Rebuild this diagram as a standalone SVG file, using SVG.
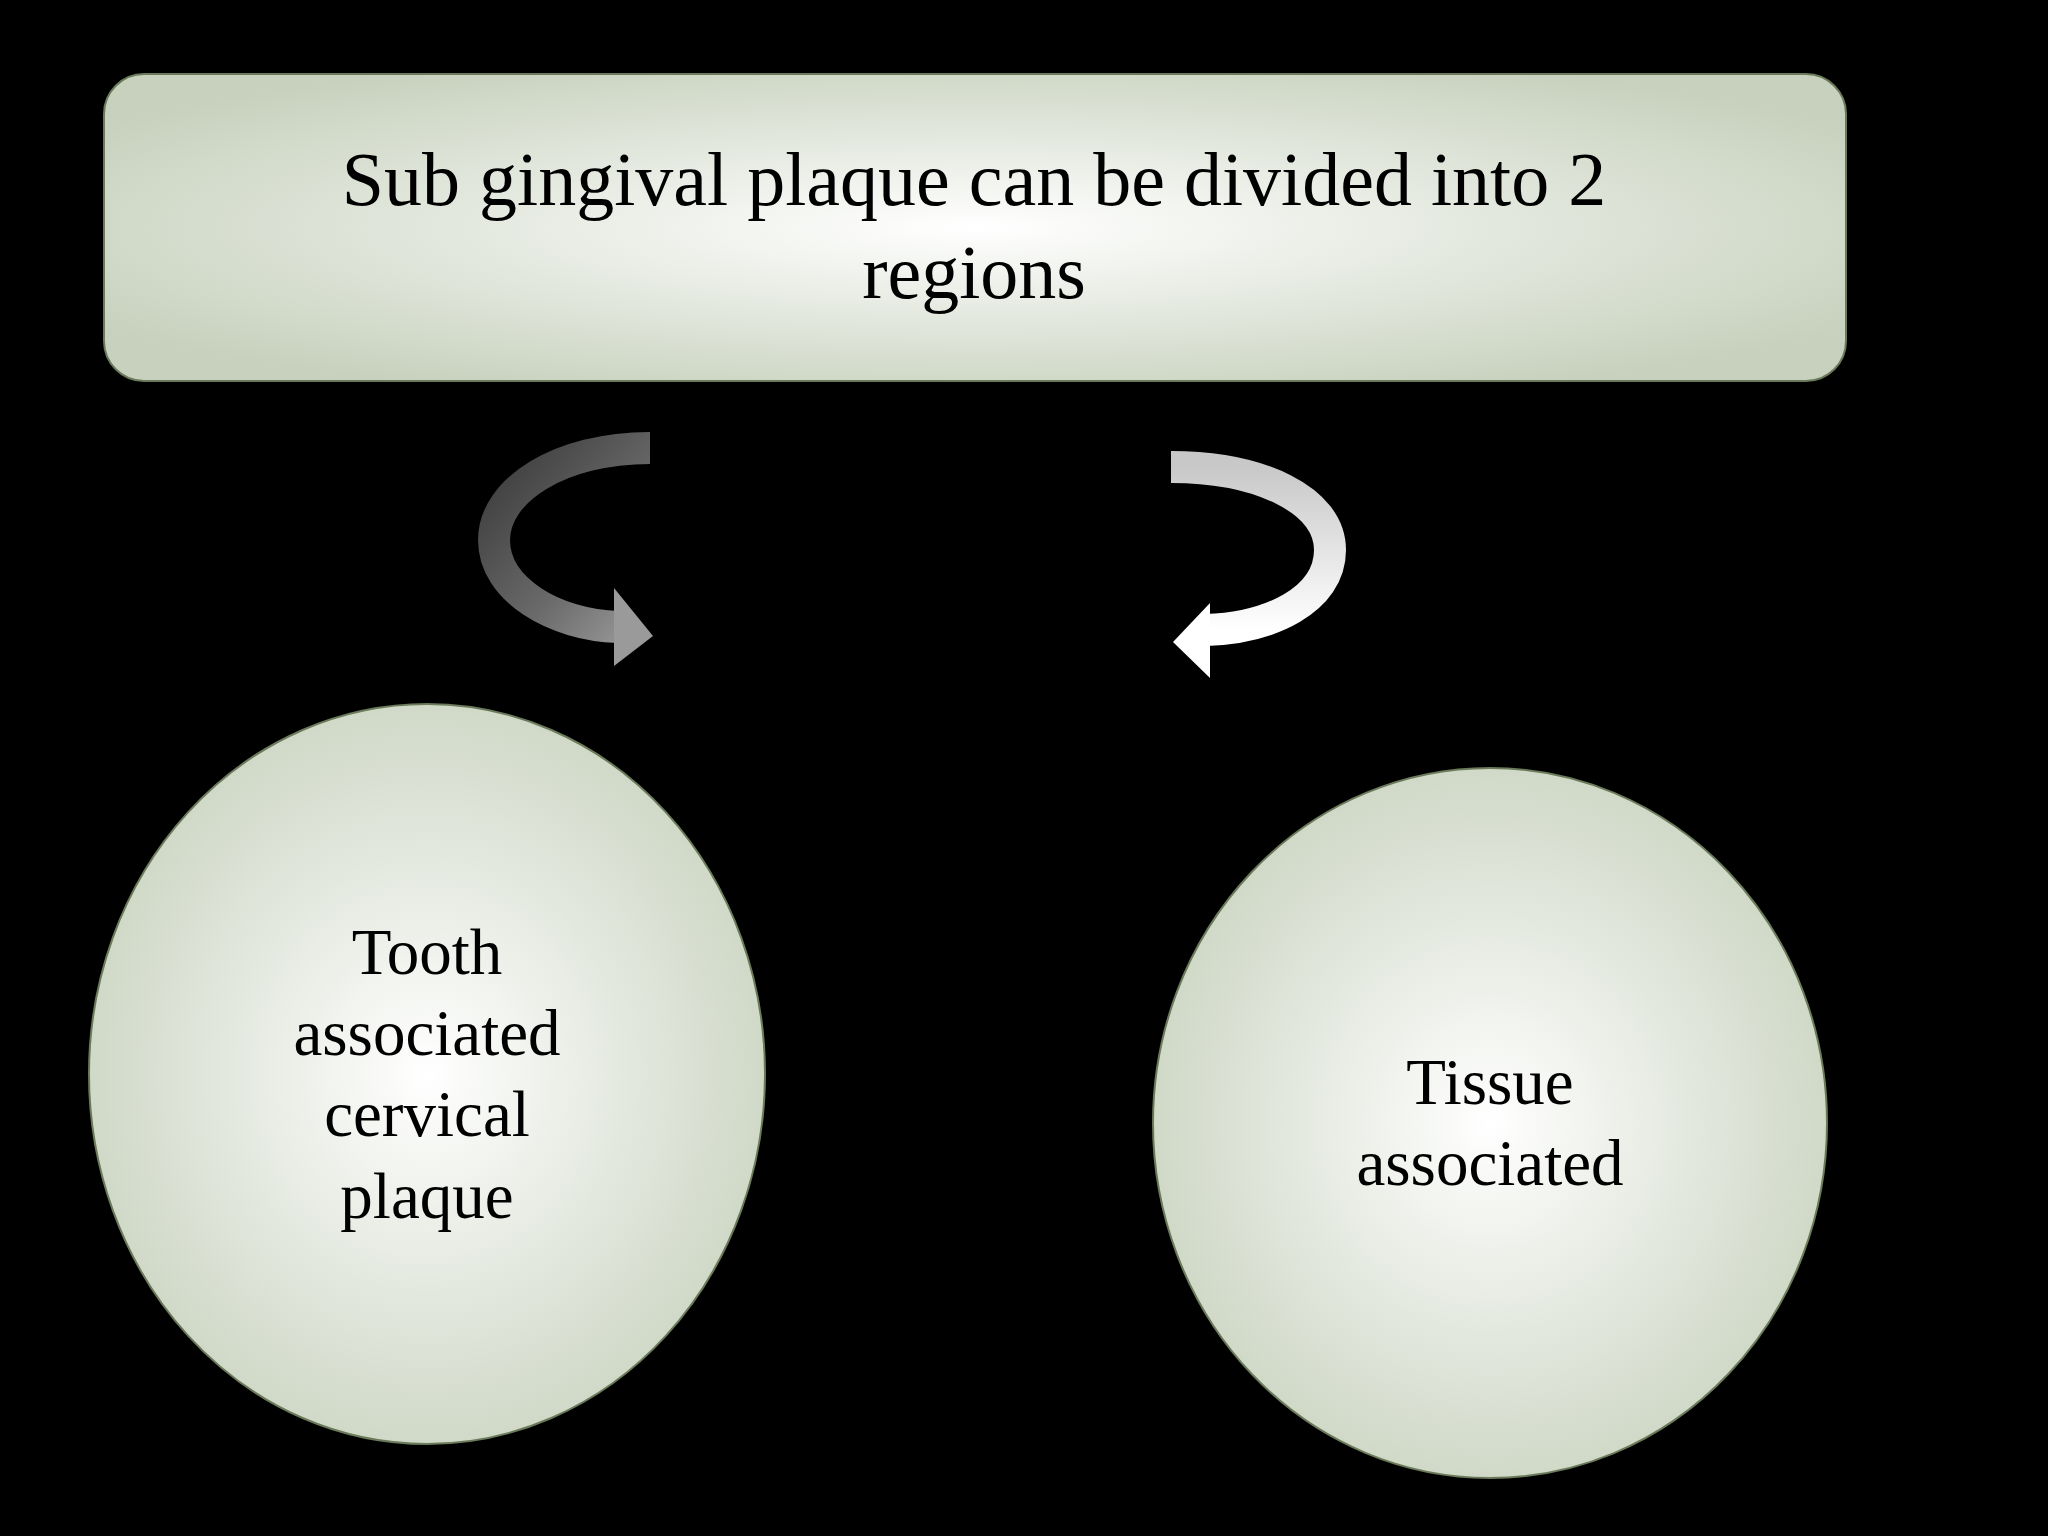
<svg xmlns="http://www.w3.org/2000/svg" width="2048" height="1536" viewBox="0 0 2048 1536">
<defs>
<radialGradient id="g" cx="50%" cy="50%" r="60%"><stop offset="0" stop-color="#ffffff"/><stop offset="1" stop-color="#c7d1bd"/></radialGradient>
<linearGradient id="la" x1="0" y1="0" x2="1" y2="1"><stop offset="0" stop-color="#3a3a3a"/><stop offset="0.6" stop-color="#6a6a6a"/><stop offset="1" stop-color="#9a9a9a"/></linearGradient>
<linearGradient id="ra" x1="0" y1="0" x2="0" y2="1"><stop offset="0" stop-color="#c8c8c8"/><stop offset="1" stop-color="#ffffff"/></linearGradient>
<style>.t{font-family:"Liberation Serif",serif;fill:#000;text-anchor:middle}.n{fill:url(#g);stroke:#6b7a5a;stroke-width:2}</style>
</defs>
<rect width="2048" height="1536" fill="#000"/>
<g id="top"><rect class="n" x="104" y="74" width="1742" height="307" rx="40"/>
<text class="t" x="974" y="205" font-size="76">Sub gingival plaque  can be divided into 2</text>
<text class="t" x="974" y="298" font-size="76">regions</text></g>
<g id="connectors">
<path d="M650,448 C560,448 494,490 494,540 C494,590 555,625 618,627" fill="none" stroke="url(#la)" stroke-width="32"/>
<polygon points="614,588 653,636 614,666" fill="#9a9a9a"/>
<path d="M1171,467 C1260,467 1330,500 1330,550 C1330,600 1270,628 1206,630" fill="none" stroke="url(#ra)" stroke-width="32"/>
<polygon points="1210,603 1173,642 1210,678" fill="#fff"/>
</g>
<g id="left"><ellipse class="n" cx="427" cy="1074" rx="338" ry="370"/>
<text class="t" font-size="65" x="427" y="974">Tooth</text>
<text class="t" font-size="65" x="427" y="1055">associated</text>
<text class="t" font-size="65" x="427" y="1136">cervical</text>
<text class="t" font-size="65" x="427" y="1218">plaque</text></g>
<g id="right"><ellipse class="n" cx="1490" cy="1123" rx="337" ry="355"/>
<text class="t" font-size="65" x="1490" y="1104">Tissue</text>
<text class="t" font-size="65" x="1490" y="1185">associated</text></g>
</svg>
